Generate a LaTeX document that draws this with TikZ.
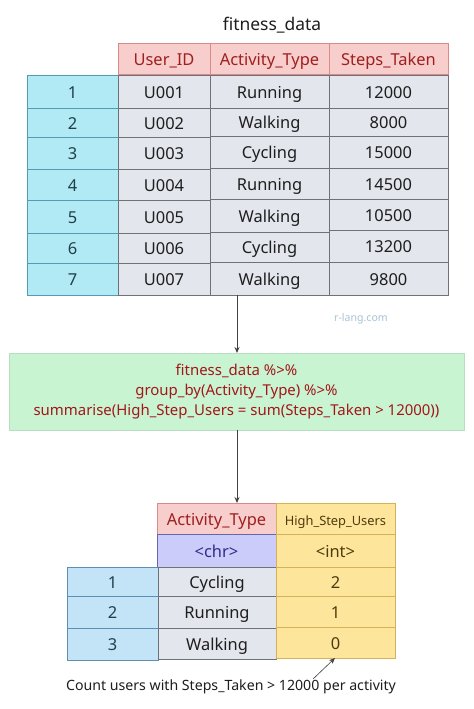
\documentclass[tikz,border=0pt]{standalone}
\usepackage{fontspec}
\setmainfont{Noto Sans}
\usetikzlibrary{arrows.meta}
\definecolor{hdrfill}{HTML}{F8CECC}
\definecolor{hdrline}{HTML}{D98A88}
\definecolor{hdrtext}{HTML}{9E1F1F}
\definecolor{idxfill}{HTML}{B1EAF5}
\definecolor{idxline}{HTML}{4F9DB0}
\definecolor{idx2fill}{HTML}{C3E4F6}
\definecolor{idx2line}{HTML}{5C8FB5}
\definecolor{datfill}{HTML}{E4E6EE}
\definecolor{datline}{HTML}{6E7178}
\definecolor{grnfill}{HTML}{C9F4D2}
\definecolor{codetext}{HTML}{A3161A}
\definecolor{chrfill}{HTML}{CCCCFA}
\definecolor{chrline}{HTML}{6666B0}
\definecolor{chrtext}{HTML}{2E2E8A}
\definecolor{yelfill}{HTML}{FDE69B}
\definecolor{yelline}{HTML}{D4B25A}
\definecolor{yeltext}{HTML}{4F3A0C}
\definecolor{celltext}{HTML}{1E1E1E}
\definecolor{idxtext}{HTML}{1F3F4A}
\definecolor{wmark}{HTML}{A9C3D3}
\tikzset{
  cellbase/.style={anchor=north west, inner sep=0pt, outer sep=0pt, line width=0.9pt,
    font=\fontsize{16.5}{19}\selectfont, text height=14pt, text depth=0pt},
  hdrcell/.style={cellbase, fill=hdrfill, draw=hdrline, text=hdrtext},
  idxcell/.style={cellbase, fill=idxfill, draw=idxline, text=idxtext},
  idxcellb/.style={cellbase, fill=idx2fill, draw=idx2line, text=idxtext},
  datcell/.style={cellbase, fill=datfill, draw=datline, text=celltext},
  chrcell/.style={cellbase, fill=chrfill, draw=chrline, text=chrtext},
  yelcell/.style={cellbase, fill=yelfill, draw=yelline, text=yeltext},
  conn/.style={draw=black!75, line width=0.8pt, -{Stealth[length=6pt,width=5pt]}},
}
\newcommand{\mycell}[7]{\node[#1, minimum width=#5bp, minimum height=#6bp] (#2) at (#3,#4) {#7};}
\begin{document}
\begin{tikzpicture}[x=1bp,y=-1bp]
\useasboundingbox[fill=white] (0,0) rectangle (474,709);
% title
\node[font=\fontsize{17.5}{20}\selectfont, text=celltext] (title) at (272,25) {fitness\_data};
% header
\mycell{hdrcell}{h1}{118}{43}{92}{31}{User\_ID}
\mycell{hdrcell}{h2}{210}{43}{119}{31}{Activity\_Type}
\mycell{hdrcell}{h3}{329}{43}{119}{31}{Steps\_Taken}
% rows
\mycell{idxcell}{i1}{27}{75}{91}{33}{1}
\mycell{idxcell}{i2}{27}{108}{91}{29}{2}
\mycell{idxcell}{i3}{27}{137}{91}{32}{3}
\mycell{idxcell}{i4}{27}{169}{91}{31}{4}
\mycell{idxcell}{i5}{27}{200}{91}{33}{5}
\mycell{idxcell}{i6}{27}{233}{91}{30}{6}
\mycell{idxcell}{i7}{27}{263}{91}{32}{7}
\mycell{datcell}{u1}{118}{75}{92}{33}{U001}
\mycell{datcell}{u2}{118}{108}{92}{29}{U002}
\mycell{datcell}{u3}{118}{137}{92}{32}{U003}
\mycell{datcell}{u4}{118}{169}{92}{31}{U004}
\mycell{datcell}{u5}{118}{200}{92}{33}{U005}
\mycell{datcell}{u6}{118}{233}{92}{30}{U006}
\mycell{datcell}{u7}{118}{263}{92}{32}{U007}
\mycell{datcell}{a1}{210}{75}{119}{33}{Running}
\mycell{datcell}{a2}{210}{108}{119}{28}{Walking}
\mycell{datcell}{a3}{210}{136}{119}{32}{Cycling}
\mycell{datcell}{a4}{210}{168}{119}{31}{Running}
\mycell{datcell}{a5}{210}{199}{119}{33}{Walking}
\mycell{datcell}{a6}{210}{232}{119}{30}{Cycling}
\mycell{datcell}{a7}{210}{262}{119}{33}{Walking}
\mycell{datcell}{s1}{329}{75}{119}{33}{12000}
\mycell{datcell}{s2}{329}{108}{119}{28}{8000}
\mycell{datcell}{s3}{329}{136}{119}{32}{15000}
\mycell{datcell}{s4}{329}{168}{119}{31}{14500}
\mycell{datcell}{s5}{329}{199}{119}{31}{10500}
\mycell{datcell}{s6}{329}{230}{119}{32}{13200}
\mycell{datcell}{s7}{329}{262}{119}{33}{9800}
% watermark
\node[font=\fontsize{10.6}{12}\selectfont, text=wmark] (wm) at (361,319) {r-lang.com};
% green box
\node[anchor=north west, inner sep=0pt, outer sep=0pt, minimum width=455bp, minimum height=77bp, fill=grnfill, draw=grnfill!80!gray, line width=0.5pt, align=center, text=codetext, font=\fontsize{15}{20}\selectfont] (code) at (9,353)
  {fitness\_data \%>\%\\group\_by(Activity\_Type) \%>\%\\summarise(High\_Step\_Users = sum(Steps\_Taken > 12000))};
% bottom table
\mycell{hdrcell}{bh1}{157}{503}{119}{31}{Activity\_Type}
\mycell{yelcell}{bh2}{276}{503}{119}{31}{\fontsize{12.9}{14}\selectfont High\_Step\_Users}
\mycell{chrcell}{bt1}{157}{534}{119}{33}{<chr>}
\mycell{yelcell}{bt2}{276}{534}{119}{33}{<int>}
\mycell{idxcellb}{bi1}{67}{567}{91}{29}{1}
\mycell{idxcellb}{bi2}{67}{596}{91}{32}{2}
\mycell{idxcellb}{bi3}{67}{628}{91}{32}{3}
\mycell{datcell}{ba1}{158}{567}{118}{29}{Cycling}
\mycell{datcell}{ba2}{158}{596}{118}{32}{Running}
\mycell{datcell}{ba3}{158}{628}{118}{31}{Walking}
\mycell{yelcell}{bv1}{276}{567}{119}{29}{2}
\mycell{yelcell}{bv2}{276}{596}{119}{31}{1}
\mycell{yelcell}{bv3}{276}{627}{119}{31}{0}
% caption
\node[font=\fontsize{14.2}{16}\selectfont, text=celltext] (cap) at (231,687) {Count users with Steps\_Taken > 12000 per activity};
\coordinate (capstart) at (313,679);
\coordinate (v3tip) at (335,658);
\coordinate (arrx) at (237,0);
% connectors
\draw[conn] (a7.south -| arrx) -- (code.north -| arrx);
\draw[conn] (code.south -| arrx) -- (bh1.north -| arrx);
\draw[conn, line width=0.6pt] (capstart) -- (v3tip);
\end{tikzpicture}
\end{document}
